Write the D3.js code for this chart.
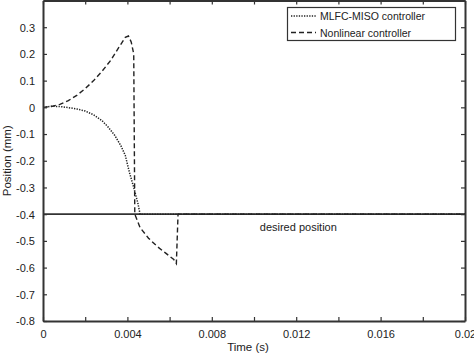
<!DOCTYPE html>
<html><head><meta charset="utf-8">
<script src="https://cdn.jsdelivr.net/npm/d3@7"></script>
<style>body{margin:0;background:#fff}svg{display:block}text{font-family:"Liberation Sans",Arial,sans-serif;fill:#222}</style>
</head><body>
<script>
const xTicks = [0, 0.002, 0.004, 0.006, 0.008, 0.010, 0.012, 0.014, 0.016, 0.018, 0.02];
const xTickLabels = ["0", "", "0.004", "", "0.008", "", "0.012", "", "0.016", "", "0.02"];
const yTicks = [0.3, 0.2, 0.1, 0, -0.1, -0.2, -0.3, -0.4, -0.5, -0.6, -0.7, -0.8];
const yTickLabels = ["0.3", "0.2", "0.1", "0", "-0.1", "-0.2", "-0.3", "-0.4", "-0.5", "-0.6", "-0.7", "-0.8"];

const mlfcT = [0, 0.0004, 0.0008, 0.0012, 0.0016, 0.002, 0.0024, 0.0028, 0.0031, 0.0034, 0.0037, 0.0039, 0.0041, 0.0043, 0.0045, 0.0046, 0.02];
const mlfcY = [0, 0.004, 0.003, -0.001, -0.006, -0.014, -0.028, -0.05, -0.075, -0.105, -0.145, -0.18, -0.245, -0.3, -0.36, -0.4, -0.4];

const nlT = [0, 0.0004, 0.0008, 0.0012, 0.0016, 0.002, 0.0024, 0.0028, 0.0032, 0.0036, 0.0039, 0.00405, 0.00418, 0.0043, 0.00435, 0.0046, 0.005, 0.0054, 0.0058, 0.0062, 0.00632, 0.0064, 0.02];
const nlY = [0, 0.003, 0.011, 0.025, 0.045, 0.07, 0.1, 0.135, 0.175, 0.225, 0.262, 0.267, 0.245, 0.2, -0.4, -0.45, -0.49, -0.52, -0.545, -0.57, -0.585, -0.4, -0.4];

const desired = -0.4;
const desiredLabel = "desired position";
const legendLabels = ["MLFC-MISO controller", "Nonlinear controller"];

const W = 474, H = 355;
const m = {l: 43, r: 9, t: 0.5, b: 34};
const svg = d3.select("body").append("svg").attr("width", W).attr("height", H);
const x = d3.scaleLinear().domain([0, 0.02]).range([m.l, W - m.r]);
const y = d3.scaleLinear().domain([-0.8, 0.4]).range([H - m.b, m.t]);

const axCol = "#333";
// desired line
svg.append("line").attr("x1", x(0)).attr("x2", x(0.02)).attr("y1", y(desired)).attr("y2", y(desired))
  .attr("stroke", "#333").attr("stroke-width", 1.6);
svg.append("text").attr("x", x(0.0121)).attr("y", y(desired) + 17).attr("text-anchor", "middle")
  .attr("font-size", 11).text(desiredLabel);

const line = d3.line().x(d => x(d[0])).y(d => y(d[1]));
svg.append("path").datum(mlfcT.map((t, i) => [t, mlfcY[i]])).attr("d", line)
  .attr("fill", "none").attr("stroke", "#222").attr("stroke-width", 1.5).attr("stroke-dasharray", "1.3,1.3");
svg.append("path").datum(nlT.map((t, i) => [t, nlY[i]])).attr("d", line)
  .attr("fill", "none").attr("stroke", "#222").attr("stroke-width", 1.4).attr("stroke-dasharray", "5,3");

// axes with inward ticks
const gB = svg.append("g").attr("transform", `translate(0,${y(-0.8)})`)
  .call(d3.axisBottom(x).tickValues(xTicks).tickSizeInner(-4).tickSizeOuter(0).tickPadding(9).tickFormat((d, i) => xTickLabels[i]));
const gT = svg.append("g").attr("transform", `translate(0,${y(0.4)})`)
  .call(d3.axisTop(x).tickValues(xTicks).tickSizeInner(-4).tickSizeOuter(0).tickFormat(""));
const gL = svg.append("g").attr("transform", `translate(${x(0)},0)`)
  .call(d3.axisLeft(y).tickValues(yTicks).tickSizeInner(-4).tickSizeOuter(0).tickPadding(8).tickFormat((d, i) => yTickLabels[i]));
const gR = svg.append("g").attr("transform", `translate(${x(0.02)},0)`)
  .call(d3.axisRight(y).tickValues(yTicks).tickSizeInner(-4).tickSizeOuter(0).tickFormat(""));
[gB, gT, gL, gR].forEach(g => {
  g.selectAll("path").attr("stroke", axCol).attr("stroke-width", 2);
  g.selectAll("line").attr("stroke", axCol).attr("stroke-width", 1.2);
  g.selectAll("text").attr("font-size", 11).attr("fill", "#222").attr("font-family", "Liberation Sans, Arial, sans-serif");
});
gL.selectAll("text").attr("dy", "0.35em");

svg.append("text").attr("x", x(0.01) - 6).attr("y", 351).attr("text-anchor", "middle").attr("font-size", 11.5).text("Time (s)");
svg.append("text").attr("transform", `translate(11,${(y(0.4) + y(-0.8)) / 2}) rotate(-90)`)
  .attr("text-anchor", "middle").attr("font-size", 11.5).text("Position (mm)");

// legend
const lg = svg.append("g");
lg.append("rect").attr("x", 287.5).attr("y", 7.5).attr("width", 168).attr("height", 33)
  .attr("fill", "#fff").attr("stroke", "#333").attr("stroke-width", 1.2);
const dashes = ["1.3,1.3", "5,3"];
legendLabels.forEach((lab, i) => {
  const yy = 16 + i * 16.5;
  lg.append("line").attr("x1", 291).attr("x2", 316).attr("y1", yy).attr("y2", yy)
    .attr("stroke", "#222").attr("stroke-width", 1.4).attr("stroke-dasharray", dashes[i]);
  lg.append("text").attr("x", 320).attr("y", yy + 4).attr("font-size", 10.5).text(lab);
});
</script>
</body></html>
